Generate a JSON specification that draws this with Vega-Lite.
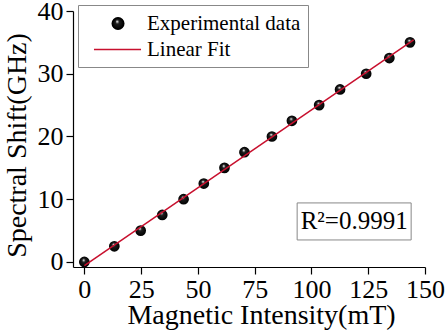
{
  "$schema": "https://vega.github.io/schema/vega-lite/v6.json",
  "width": 352,
  "height": 256,
  "autosize": {"type": "none"},
  "padding": {"left": 73, "top": 11, "right": 21, "bottom": 64},
  "background": "white",
  "config": {
    "view": {"stroke": null},
    "font": "Liberation Serif",
    "axis": {
      "grid": false,
      "domainColor": "black",
      "domainWidth": 1.2,
      "tickColor": "black",
      "tickWidth": 1.2,
      "labelFont": "Liberation Serif",
      "labelFontSize": 26,
      "labelColor": "black",
      "labelOverlap": false,
      "labelFlush": false,
      "titleFont": "Liberation Serif",
      "titleFontSize": 28,
      "titleFontWeight": "normal",
      "titleColor": "black"
    }
  },
  "datasets": {
    "measurements": [
      {"B": 0, "shift": 0},
      {"B": 13.2, "shift": 2.5},
      {"B": 24.8, "shift": 5},
      {"B": 34.3, "shift": 7.5},
      {"B": 43.7, "shift": 10},
      {"B": 52.6, "shift": 12.5},
      {"B": 61.7, "shift": 15},
      {"B": 70.5, "shift": 17.5},
      {"B": 82.6, "shift": 20},
      {"B": 91.4, "shift": 22.5},
      {"B": 103.4, "shift": 25},
      {"B": 112.6, "shift": 27.5},
      {"B": 124.1, "shift": 30},
      {"B": 134.3, "shift": 32.5},
      {"B": 143.4, "shift": 35}
    ]
  },
  "layer": [
    {
      "data": {"name": "measurements"},
      "mark": {
        "type": "point",
        "shape": "circle",
        "filled": true,
        "size": 115,
        "opacity": 1,
        "strokeWidth": 0,
        "fill": {
          "gradient": "radial",
          "x1": 0.42, "y1": 0.3, "r1": 0,
          "x2": 0.5, "y2": 0.5, "r2": 0.5,
          "stops": [
            {"offset": 0, "color": "#ffffff"},
            {"offset": 0.14, "color": "#b0b0b0"},
            {"offset": 0.32, "color": "#1e1e1e"},
            {"offset": 1, "color": "#000000"}
          ]
        }
      },
      "encoding": {
        "x": {
          "field": "B",
          "type": "quantitative",
          "scale": {"domain": [-5, 150], "nice": false, "zero": false},
          "axis": {
            "values": [0, 12.5, 25, 37.5, 50, 62.5, 75, 87.5, 100, 112.5, 125, 137.5, 150],
            "labelExpr": "datum.value % 25 === 0 ? datum.label : ''",
            "tickSize": {"condition": {"test": "datum.value % 25 === 0", "value": 7}, "value": 4},
            "labelPadding": 2,
            "title": "Magnetic Intensity(mT)",
            "titleX": 188,
            "titleY": 56,
            "titleAlign": "center",
            "titleBaseline": "alphabetic"
          }
        },
        "y": {
          "field": "shift",
          "type": "quantitative",
          "scale": {"domain": [-0.8, 40], "nice": false, "zero": false},
          "axis": {
            "values": [0, 5, 10, 15, 20, 25, 30, 35, 40],
            "labelExpr": "datum.value % 10 === 0 ? datum.label : ''",
            "tickSize": {"condition": {"test": "datum.value % 10 === 0", "value": 7}, "value": 4},
            "labelPadding": 3,
            "title": "Spectral Shift(GHz)",
            "titleAngle": 270,
            "titleX": -48,
            "titleY": 134,
            "titleAlign": "center",
            "titleBaseline": "alphabetic"
          }
        }
      }
    },
    {
      "data": {"name": "measurements"},
      "transform": [{"regression": "shift", "on": "B", "extent": [0, 145]}],
      "mark": {"type": "line", "strokeWidth": 1.5},
      "encoding": {
        "x": {"field": "B", "type": "quantitative"},
        "y": {"field": "shift", "type": "quantitative"},
        "color": {
          "datum": "Linear Fit",
          "type": "nominal",
          "scale": {"domain": ["Experimental data", "Linear Fit"], "range": ["#000000", "#c8102e"]},
          "legend": {
            "title": null,
            "orient": "none",
            "legendX": 5,
            "legendY": -6,
            "direction": "vertical",
            "strokeColor": "#888888",
            "fillColor": "white",
            "padding": 7,
            "symbolSize": 441,
            "rowPadding": 4,
            "labelFont": "Liberation Serif",
            "labelFontSize": 21,
            "labelColor": "black",
            "labelOffset": 39,
            "labelLimit": 400,
            "encode": {
              "symbols": {
                "update": {
                  "shape": [
                    {"test": "datum.value === 'Linear Fit'", "value": "M-0.24,0H4.24"},
                    {"value": "M2.6,0A0.55,0.55,0,1,1,1.5,0A0.55,0.55,0,1,1,2.6,0Z"}
                  ],
                  "fill": [
                    {"test": "datum.value === 'Linear Fit'", "value": "transparent"},
                    {"value": {
                      "gradient": "radial",
                      "x1": 0.42, "y1": 0.3, "r1": 0,
                      "x2": 0.5, "y2": 0.5, "r2": 0.5,
                      "stops": [
                        {"offset": 0, "color": "#ffffff"},
                        {"offset": 0.14, "color": "#b0b0b0"},
                        {"offset": 0.32, "color": "#1e1e1e"},
                        {"offset": 1, "color": "#000000"}
                      ]
                    }}
                  ],
                  "stroke": [
                    {"test": "datum.value === 'Linear Fit'", "value": "#c8102e"},
                    {"value": "transparent"}
                  ],
                  "strokeWidth": {"value": 1.5},
                  "opacity": {"value": 1}
                }
              }
            }
          }
        }
      }
    },
    {
      "data": {"values": [{"label": "R²=0.9991"}]},
      "layer": [
        {
          "mark": {"type": "rect", "fill": "white", "stroke": "#888888", "strokeWidth": 1},
          "encoding": {
            "x": {"datum": 93.7, "type": "quantitative"},
            "x2": {"datum": 143.9},
            "y": {"datum": 9.41, "type": "quantitative"},
            "y2": {"datum": 3.51}
          }
        },
        {
          "mark": {"type": "text", "font": "Liberation Serif", "fontSize": 25, "color": "black", "baseline": "middle", "align": "center"},
          "encoding": {
            "x": {"datum": 118.8, "type": "quantitative"},
            "y": {"datum": 6.46, "type": "quantitative"},
            "text": {"field": "label"}
          }
        }
      ]
    }
  ]
}
